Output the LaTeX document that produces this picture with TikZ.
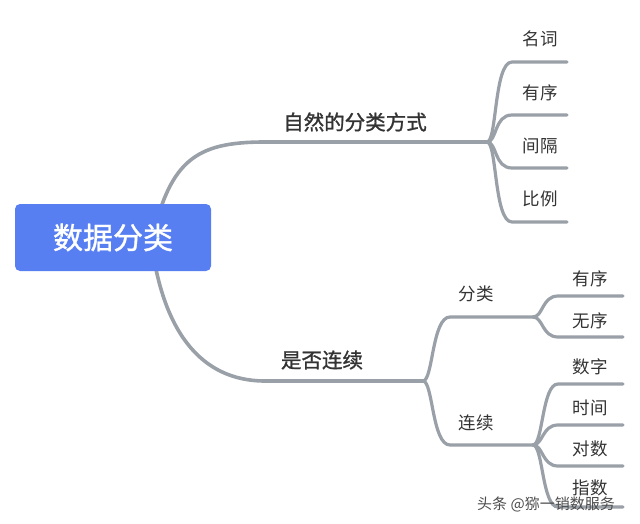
\documentclass[tikz,border=0pt]{standalone}
\usepackage{fontspec}
\setmainfont{Noto Sans CJK SC}
\newfontfamily\semibfont[FakeBold=1.2]{Noto Sans CJK SC}
\definecolor{linegray}{RGB}{154,160,168}
\definecolor{rootblue}{RGB}{88,127,242}
\definecolor{txt}{RGB}{51,51,51}
\begin{document}
\begin{tikzpicture}[x=1pt,y=-1pt,
  branch/.style={draw=linegray,line width=3.6pt,line cap=round},
  twig/.style={draw=linegray,line width=3.2pt,line cap=round},
  rootbox/.style={fill=rootblue,rounded corners=5pt,minimum width=196pt,minimum height=67pt,text=white,font=\fontsize{30}{34}\semibfont,inner sep=0pt},
  lvone/.style={text=txt,font=\fontsize{20.5}{24}\semibfont,inner sep=0pt},
  lvtwo/.style={text=txt,font=\fontsize{17.5}{21}\selectfont,inner sep=0pt},
  wm/.style={text=black!70,font=\fontsize{15}{18}\selectfont,inner sep=0pt}]
\useasboundingbox (0,0) rectangle (640,524);
% coordinates
\coordinate (rt) at (150,250);
\coordinate (rb) at (150,230);
\coordinate (a0) at (265,142);
\coordinate (aj) at (487,142);
\coordinate (b0) at (265,381);
\coordinate (bj) at (423,381);
\foreach \n/\y in {1/62,2/115,3/168,4/222}{
  \coordinate (a\n s) at (512,\y);
  \coordinate (a\n e) at (567,\y);
}
\coordinate (c0) at (450,317); \coordinate (cj) at (533,317);
\coordinate (d0) at (450,445); \coordinate (dj) at (533,445);
\foreach \n/\y in {1/296,2/337}{
  \coordinate (c\n s) at (558,\y);
  \coordinate (c\n e) at (623,\y);
}
\foreach \n/\y in {1/384,2/425,3/466,4/507}{
  \coordinate (d\n s) at (558,\y);
  \coordinate (d\n e) at (623,\y);
}
% main branches
\draw[branch] (rt) .. controls (168,160) and (195,142) .. (a0) -- (aj);
\draw[branch] (rb) .. controls (160,330) and (200,381) .. (b0) -- (bj);
% upper children
\foreach \n in {1,2,3,4}{
  \draw[twig] (aj) .. controls +(10,0) and +(-18,0) .. (a\n s) -- (a\n e);
}
% lower level
\draw[twig] (bj) .. controls +(10,0) and +(-18,0) .. (c0) -- (cj);
\draw[twig] (bj) .. controls +(10,0) and +(-18,0) .. (d0) -- (dj);
\foreach \n in {1,2}{
  \draw[twig] (cj) .. controls +(10,0) and +(-16,0) .. (c\n s) -- (c\n e);
}
\foreach \n in {1,2,3,4}{
  \draw[twig] (dj) .. controls +(10,0) and +(-16,0) .. (d\n s) -- (d\n e);
}
% root
\node[rootbox] (root) at (113,237.5) {数据分类};
% labels
\node[lvone] (l1) at (355,122) {自然的分类方式};
\node[lvone] (l2) at (322,360) {是否连续};
\node[lvtwo] (n1) at (540,39) {名词};
\node[lvtwo] (n2) at (540,93) {有序};
\node[lvtwo] (n3) at (540,146) {间隔};
\node[lvtwo] (n4) at (540,199) {比例};
\node[lvtwo] (m1) at (476,294) {分类};
\node[lvtwo] (m2) at (476,423) {连续};
\node[lvtwo] (p1) at (590,279) {有序};
\node[lvtwo] (p2) at (590,321) {无序};
\node[lvtwo] (q1) at (590,367) {数字};
\node[lvtwo] (q2) at (590,408) {时间};
\node[lvtwo] (q3) at (590,449) {对数};
\node[lvtwo] (q4) at (590,488) {指数};
\node[wm] (w) at (546,504) {头条 @猕一销数服务};
\end{tikzpicture}
\end{document}
